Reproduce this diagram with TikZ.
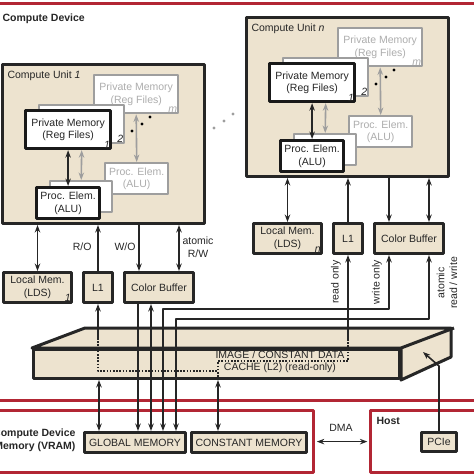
\documentclass[tikz,border=0pt]{standalone}
\usepackage{fontspec}
\setmainfont{Liberation Sans}
\usetikzlibrary{arrows.meta}
\definecolor{beige}{RGB}{237,227,207}
\definecolor{devred}{RGB}{178,38,52}
\definecolor{pegray}{RGB}{158,158,158}
\begin{document}
\begin{tikzpicture}[x=1pt, y=-1pt, font=\fontsize{10.5}{12.6}\selectfont, text=black!85,
	line join=round, >={Stealth[length=7.5pt,width=5.5pt]},
	redframe/.style={draw=devred, line width=3.2pt, anchor=north west, inner sep=0pt},
	cubox/.style={draw=black!85, fill=beige, line width=3pt, anchor=north west, inner sep=0pt},
	card/.style={draw=black!90, fill=white, line width=3.2pt, anchor=north west, align=center, inner sep=0pt},
	ghost/.style={card, draw=pegray, text=pegray!85, line width=2.4pt},
	mem/.style={draw=black!85, fill=beige, line width=3pt, anchor=north west, align=center, inner sep=0pt},
	idx/.style={anchor=south east, inner sep=2pt, font=\fontsize{10.5}{12.6}\selectfont\itshape},
	bold/.style={font=\fontsize{10.5}{12.6}\selectfont\bfseries},
	link/.style={draw=black!85, line width=1.6pt},
	glink/.style={draw=pegray, line width=1.6pt},
	cachepath/.style={draw=black!85, line width=1.6pt, dash pattern=on 1.6pt off 1.6pt}]
	\useasboundingbox (0,0) rectangle (474,474);
	\clip (0,0) rectangle (474,474);
	\fill[white] (0,0) rectangle (474,474);
	% frames
	\node[redframe, minimum width=520, minimum height=397] (device) at (-20,2) {};
	\node[redframe, minimum width=332, minimum height=62] (devmem) at (-20,409) {};
	\node[redframe, minimum width=130, minimum height=62] (host) at (369,409) {};
	\node[bold, anchor=west] (devlbl) at (-1,19) {Compute Device};
	\node[bold, anchor=east, align=right] (memlbl) at (79,440) {Compute Device\\Memory (VRAM)};
	\node[bold, anchor=west] (hostlbl) at (373,421) {Host};
	% compute units
	\foreach \k/\dx/\dy in {1/0/0, n/244/-47}{
		\begin{scope}[shift={(\dx,\dy)}]
			\node[cubox, minimum width=202, minimum height=159] (cu\k) at (1,63) {};
			\node[anchor=west] (cul\k) at (4,76) {Compute Unit \textit{\k}};
			\node[ghost, minimum width=84, minimum height=38] (regm\k) at (93,74) {Private Memory\\(Reg Files)};
			\node[idx, text=pegray!85] at (regm\k.south east) {m};
			\node[ghost, minimum width=85, minimum height=38] (regb\k) at (38,104) {};
			\node[idx] at (regb\k.south east) {2};
			\node[card, minimum width=85, minimum height=38] (rega\k) at (24,109) {Private Memory\\(Reg Files)};
			\node[idx] at (rega\k.south east) {1};
			\node[ghost, minimum width=63, minimum height=31] (alum\k) at (104,162) {Proc. Elem.\\(ALU)};
			\node[ghost, minimum width=62, minimum height=31] (alub\k) at (49,180) {};
			\node[card, minimum width=63, minimum height=31] (alua\k) at (35,186) {Proc. Elem.\\(ALU)};
			\draw[glink, <->] (regm\k.south) -- (alum\k.north);
			\draw[glink, <->] (regb\k.south |- rega\k.south) -- (alub\k.north);
			\draw[link, <->] (rega\k.south) -- (alua\k.north);
			\foreach \p in {(150,117),(142,124),(132,131)} \fill[black] \p circle (1.6pt);
		\end{scope}
	}
	\foreach \p in {(214,128),(224,121),(233,114)} \fill[pegray] \p circle (1.6pt);
	% local memories, L1, colour buffers
	\foreach \k/\dx/\dy in {1/0/0, n/250/-49}{
		\begin{scope}[shift={(\dx,\dy)}]
			\node[mem, minimum width=68, minimum height=30] (lds\k) at (2,271) {Local Mem.\\(LDS)};
			\node[idx] at (lds\k.south east) {\k};
			\node[mem, minimum width=29, minimum height=30] (lone\k) at (82,271) {L1};
			\node[mem, minimum width=69, minimum height=30] (cb\k) at (123,271) {Color Buffer};
		\end{scope}
		\coordinate (wo\k) at ([xshift=-20]cb\k.north);
		\coordinate (aw\k) at ([xshift=20]cb\k.north);
		\draw[link, <->] (lds\k.north) -- (lds\k.north |- cu\k.south);
		\draw[link, ->] (lone\k.north) -- (lone\k.north |- cu\k.south);
		\draw[link, ->] (wo\k |- cu\k.south) -- (wo\k);
		\draw[link, <->] (aw\k) -- (aw\k |- cu\k.south);
	}
	\node[anchor=east] (rolbl) at (95,247) {R/O};
	\node (wolbl) at (125,247) {W/O};
	\node[align=center] (awlbl) at (198,247) {atomic\\R/W};
	\node[rotate=90] (rdlbl) at (336,282) {read only};
	\node[rotate=90] (wrlbl) at (377,282) {write only};
	\node[rotate=90, align=center] (rwlbl) at (447,283) {atomic\\read / write};
	% L2 slab
	\node[mem, minimum width=366, minimum height=29] (l2) at (32,348) {};
	\filldraw[draw=black!85, fill=beige, line width=3pt] (l2.north west) -- ++(53,-20) -- ++(366,0) -- ++(0,29)
		-- (l2.south east) -- (l2.north east) -- cycle (l2.north east) -- ++(53,-20);
	\node (l2a) at (280,355) {IMAGE / CONSTANT DATA};
	\node (l2b) at (280,368) {CACHE (L2) (read-only)};
	% global / constant memory, host
	\node[mem, minimum width=101, minimum height=20] (gmem) at (83,431) {GLOBAL MEMORY};
	\node[mem, minimum width=115, minimum height=20] (cmem) at (190,431) {CONSTANT MEMORY};
	\node[mem, minimum width=35, minimum height=19] (pcie) at (420,431) {PCIe};
	\node (dma) at (341,428) {DMA};
	\coordinate (ro1) at (lone1.south |- 0,338);
	\coordinate (ron) at (lonen.south |- 0,340);
	\coordinate (lnA) at (99,0);
	\coordinate (lnC) at (218,0);
	\coordinate (lwo) at (138,0);
	\coordinate (lat) at (151,0);
	\coordinate (lwn) at (163,309);
	\coordinate (lan) at (176,319);
	\coordinate (side) at (423,352);
	\draw[link, ->] (ro1) -- (lone1.south);
	\draw[link, ->] (ron) -- (lonen.south);
	\draw[cachepath] (ro1) |- (lnC |- 0,371);
	\draw[cachepath] (lnC |- l2.south) -- (lnC |- 0,361) -| (ron);
	\draw[link, ->] (lwo |- cb1.south) -- (lwo |- gmem.north);
	\draw[link, <->] (lat |- cb1.south) -- (lat |- gmem.north);
	\draw[link, <->] (lwn |- gmem.north) -- (lwn) -| (won |- cbn.south);
	\draw[link, <->] (lan |- gmem.north) -- (lan) -| (awn |- cbn.south);
	\draw[link, <->] (lnA |- l2.south) -- (lnA |- gmem.north);
	\draw[link, <->] (lnC |- l2.south) -- (lnC |- cmem.north);
	\draw[link, <->, shorten <=1.6pt, shorten >=1.6pt] (devmem.east) -- (host.west);
	\draw[link, ->] (pcie.north) -- ++(0,-65) -- (side);
\end{tikzpicture}
\end{document}
